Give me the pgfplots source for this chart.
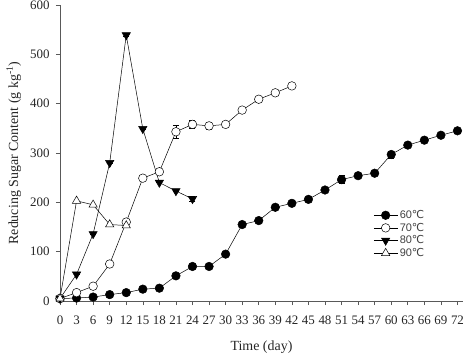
\documentclass[border=0pt]{standalone}
\usepackage{fontspec}
\setmainfont{Liberation Serif}
\newfontfamily\legfont{Liberation Sans}
\newfontfamily\dejavu{DejaVu Sans}
\usepackage{pgfplots}
\pgfplotsset{compat=1.18}
\begin{document}
\begin{tikzpicture}
\begin{axis}[
  scale only axis, width=403bp, height=296bp,
  xmin=0, xmax=73, ymin=0, ymax=600,
  axis x line=bottom, axis y line=left,
  axis line style={-, line width=0.6pt, black!65},
  xtick={0,3,...,72}, ytick={0,100,...,600},
  tick align=outside, major tick length=4bp,
  tick style={black!65, line width=0.6pt},
  /pgf/number format/assume math mode=true,
  ticklabel style={font=\fontsize{13}{15}\selectfont, text=black!85},
  xticklabel style={yshift=-7bp},
  yticklabel style={xshift=-3bp},
  xlabel={Time (day)}, ylabel={Reducing Sugar Content (g kg\textsuperscript{-1})},
  xlabel style={font=\fontsize{14}{16}\selectfont, text=black!85, yshift=-10bp},
  ylabel style={font=\fontsize{14}{16}\selectfont, text=black!85, yshift=2bp},
  every axis plot/.append style={black, line width=0.5pt},
  error bars/error bar style={black, line width=0.5pt},
  error bars/error mark options={rotate=90, mark size=3bp, line width=0.5pt},
  legend style={at={(0.77,0.32)}, anchor=north west, draw=none, fill=none,
    font=\legfont\fontsize{11}{13}\selectfont, row sep=-1bp,
    text=black!75},
  legend cell align=left,
  legend image code/.code={\draw[mark repeat=2,mark phase=2] plot coordinates {(0cm,0cm)(0.42cm,0cm)(0.84cm,0cm)};},
]
\coordinate (O) at (rel axis cs:0,0);
% 60 C
\addplot[mark=*, mark options={fill=black, solid}, mark size=4.3bp,
  error bars/.cd, y dir=both, y explicit]
  table[x=x, y=y, y error=e] {
x y e
0 5 0
3 6 0
6 8 0
9 13 0
12 17 0
15 24 0
18 26 0
21 51 0
24 70 0
27 70 0
30 95 0
33 155 0
36 163 0
39 190 0
42 198 0
45 206 0
48 225 0
51 246 8
54 254 0
57 259 0
60 297 7
63 316 0
66 326 0
69 336 0
72 345 4
};
\addlegendentry{60{\dejavu ℃}}
% 70 C
\addplot[mark=*, mark options={fill=white, solid}, mark size=4.3bp,
  error bars/.cd, y dir=both, y explicit]
  table[x=x, y=y, y error=e] {
x y e
0 5 0
3 17 0
6 30 0
9 75 0
12 160 0
15 249 0
18 262 0
21 343 14
24 358 8
27 355 7
30 358 0
33 387 0
36 409 0
39 422 0
42 436 0
};
\addlegendentry{70{\dejavu ℃}}
% 80 C
\addplot[mark=triangle*, mark options={fill=black, solid, rotate=180}, mark size=4.8bp,
  error bars/.cd, y dir=both, y explicit]
  table[x=x, y=y, y error=e] {
x y e
0 5 0
3 54 0
6 136 0
9 280 0
12 539 3
15 349 0
18 240 0
21 223 0
24 207 5
};
\addlegendentry{80{\dejavu ℃}}
% 90 C
\addplot[mark=triangle*, mark options={fill=white, solid}, mark size=4.8bp]
  table[x=x, y=y] {
x y
0 5
3 203
6 195
9 155
12 153
};
\addlegendentry{90{\dejavu ℃}}
\end{axis}
\pgfresetboundingbox
\useasboundingbox ([shift={(-60bp,-52bp)}]O) rectangle ([shift={(414bp,301bp)}]O);
\end{tikzpicture}
\end{document}
